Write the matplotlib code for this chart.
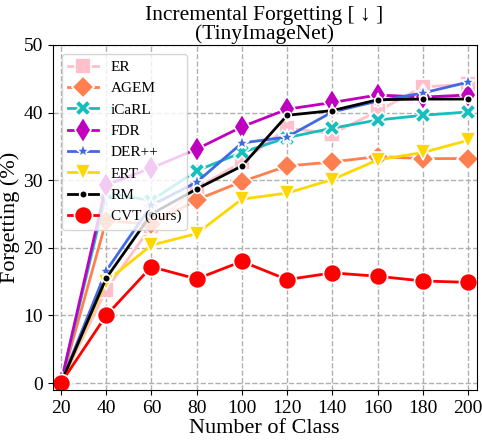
import matplotlib
matplotlib.use("Agg")
import matplotlib.pyplot as plt

plt.rcParams['font.family'] = ['Liberation Serif', 'DejaVu Serif']
plt.rcParams['mathtext.fontset'] = 'stix'

classes = [20, 40, 60, 80, 100, 120, 140, 160, 180, 200]
er    = [0, 13.8, 23.2, 28.8, 32.7, 37.7, 36.9, 40.2, 43.8, 44.2]
agem  = [0, 24.0, 23.5, 27.1, 29.8, 32.1, 32.7, 33.5, 33.2, 33.2]
icarl = [0, 28.1, 27.0, 31.4, 34.1, 36.3, 37.7, 38.9, 39.6, 40.1]
fdr   = [0, 29.3, 31.8, 34.6, 37.9, 40.5, 41.5, 42.6, 42.3, 42.6]
derpp = [0, 16.6, 26.3, 29.7, 35.5, 36.4, 40.1, 41.7, 42.9, 44.5]
ert   = [0, 15.0, 20.4, 22.1, 27.2, 28.1, 30.1, 33.0, 34.1, 35.9]
rm    = [0, 15.5, 25.0, 28.7, 32.1, 39.6, 40.3, 41.9, 42.0, 42.0]
cvt   = [0, 10.0, 17.2, 15.4, 18.0, 15.3, 16.3, 15.8, 15.1, 14.9]

labels = ['ER', 'AGEM', 'iCaRL', 'FDR', 'DER++', 'ERT', 'RM', 'CVT (ours)']
series = [er, agem, icarl, fdr, derpp, ert, rm, cvt]
colors = ['pink', 'coral', '#17BEBB', 'm', 'royalblue', 'gold', 'black', 'red']
markers = ['s', 'D', 'X', 'd', '*', 'v', '.', 'o']
msizes = [12, 11, 12, 13, 11, 12, 11, 13]

fig = plt.figure(figsize=(4.82, 4.41), dpi=100)
ax = fig.add_axes([0.109, 0.116, 0.880, 0.782])

for y, lab, c, m, ms in zip(series, labels, colors, markers, msizes):
    ax.plot(classes, y, color=c, marker=m, markersize=ms, linewidth=2,
            markeredgecolor='white', markeredgewidth=1.2, label=lab)

ax.set_xlim(16.3, 203.8)
ax.set_ylim(-1, 50)
ax.set_xticks(classes)
ax.set_yticks([0, 10, 20, 30, 40, 50])
ax.tick_params(labelsize=14)
ax.grid(True, linestyle='--', color='#b0b0b0', linewidth=1)
ax.set_axisbelow(True)
ax.set_xlabel('Number of Class', fontsize=16, labelpad=2)
ax.set_ylabel('Forgetting (%)', fontsize=16, labelpad=2)
ax.set_title('Incremental Forgetting [ ↓ ]\n(TinyImageNet)', fontsize=15.5,
             linespacing=0.95, pad=4)
ax.legend(loc='upper left', fontsize=11, labelspacing=0.5, framealpha=0.8,
          borderaxespad=0.6)

fig.savefig('out.png', dpi=100)
